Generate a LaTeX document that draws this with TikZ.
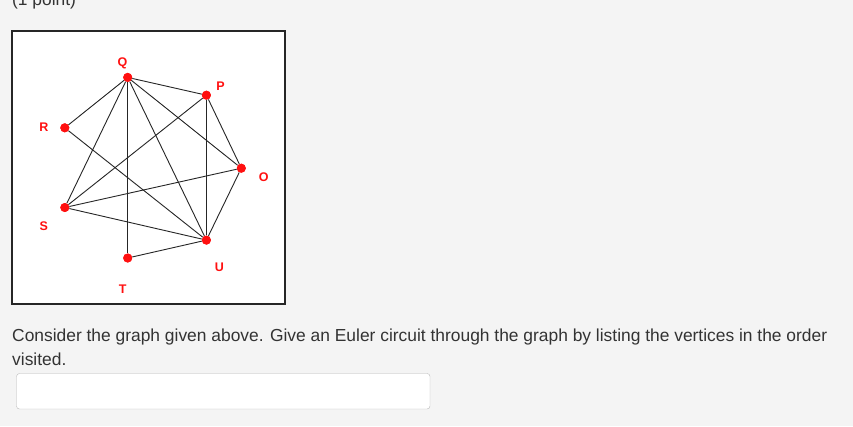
\documentclass[tikz,border=0pt]{standalone}
\usepackage{fontspec}
\setmainfont{Liberation Sans}
\usetikzlibrary{positioning}
\definecolor{pagebg}{HTML}{F4F4F4}
\definecolor{txtgray}{HTML}{333333}
\definecolor{boxgray}{HTML}{BBBBBB}
\definecolor{dotred}{HTML}{FF1010}

\tikzset{
    vertex/.style={circle, fill=dotred, inner sep=0pt, minimum size=9pt},
    vlabel/.style={text=dotred, font=\fontsize{12.5}{12.5}\selectfont\bfseries, inner sep=0pt},
    question/.style={text=txtgray, font=\fontsize{17.4}{17.4}\selectfont, inner sep=0pt, anchor=base west}
}

\begin{document}
\begin{tikzpicture}[x=1pt,y=-1pt]
            \clip (0,0) rectangle (853,426);
            \fill[pagebg] (0,0) rectangle (853,426);
            \node[question] (head) at (12,5.5) {(1 point)};
            \draw[fill=white, line width=1.2pt, draw=black!85] (12,31) rectangle (285,304);
            % vertices
            \node[vertex] (Q) at (127.7,77.4) {};
            \node[vertex] (P) at (206.4,95.2) {};
            \node[vertex] (R) at (64.8,127.8) {};
            \node[vertex] (O) at (241.3,168.2) {};
            \node[vertex] (S) at (64.8,207.5) {};
            \node[vertex] (U) at (206.4,240.1) {};
            \node[vertex] (T) at (127.7,258) {};
            % labels
            \node[vlabel] (lQ) at (122.6,63) {Q};
            \node[vlabel] (lP) at (220.5,85.8) {P};
            \node[vlabel] (lR) at (43.9,127.2) {R};
            \node[vlabel] (lO) at (263.8,177.3) {O};
            \node[vlabel] (lS) at (43.9,226) {S};
            \node[vlabel] (lU) at (219.5,267) {U};
            \node[vlabel] (lT) at (122.6,288.9) {T};
            \path[draw=black!85, line width=0.9pt]
                (Q)
                    edge (P)
                    edge (R)
                    edge (S)
                    edge (T)
                    edge (U)
                    edge (O)
                (P)
                    edge (S)
                    edge (U)
                    edge (O)
                (R)
                    edge (U)
                (O)
                    edge (S)
                    edge (U)
                (S)
                    edge (U)
                (T)
                    edge (U);
            \node[vertex] at (Q) {};
            \node[vertex] at (P) {};
            \node[vertex] at (R) {};
            \node[vertex] at (O) {};
            \node[vertex] at (S) {};
            \node[vertex] at (U) {};
            \node[vertex] at (T) {};
            \node[question] (line1) at (12,341) {Consider the graph given above. Give an Euler circuit through the graph by listing the vertices in the order};
            \node[question] (line2) at (12,365) {visited.};
            \draw[fill=white, draw=boxgray, rounded corners=3pt] (16.5,373.5) rectangle (430,409);
        \end{tikzpicture}
\end{document}
